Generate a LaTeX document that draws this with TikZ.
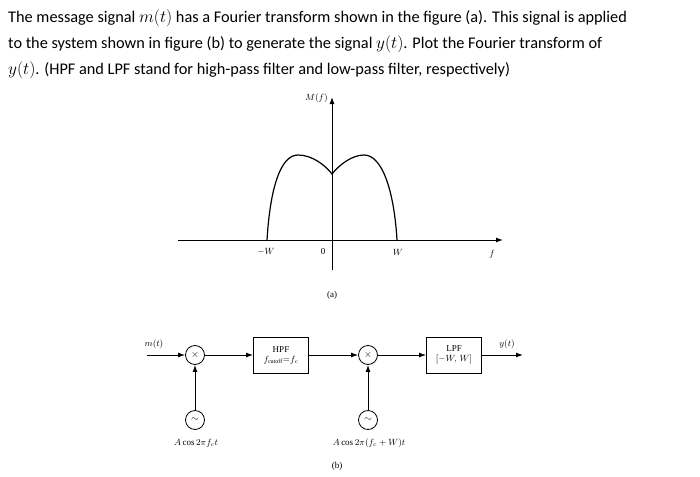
\documentclass[tikz,border=0pt]{standalone}
\usepackage{fontspec}
\setmainfont{Liberation Serif}
\newfontfamily\txtfont{Carlito}
\usetikzlibrary{arrows.meta}
\begin{document}
\begin{tikzpicture}[x=1pt,y=-1pt,
  ln/.style={line width=1pt},
  arr/.style={ln,-{Latex[length=7pt,width=5pt]}},
  mult/.style={circle,draw,line width=0.8pt,minimum size=19pt,inner sep=0pt},
  blk/.style={draw,line width=0.8pt,minimum width=55pt,minimum height=36pt,align=center,font=\small,inner sep=1pt},
  lab/.style={font=\small\itshape,inner sep=1pt},
  hdr/.style={anchor=west,font=\txtfont\fontsize{16.3}{18}\selectfont,inner sep=0pt}]
\useasboundingbox (0,0) rectangle (700,476);
\node[hdr] (h1) at (8,18) {The message signal $m(t)$ has a Fourier transform shown in the figure (a). This signal is applied};
\node[hdr] (h2) at (8,44) {to the system shown in figure (b) to generate the signal $y(t)$. Plot the Fourier transform of};
\node[hdr] (h3) at (8,70) {$y(t)$. (HPF and LPF stand for high-pass filter and low-pass filter, respectively)};
% spectrum
\coordinate (xa) at (178,240); \coordinate (xb) at (503,240);
\coordinate (ya) at (332,270); \coordinate (yb) at (332,97);
\draw[arr] (xa) -- (xb);
\draw[arr] (ya) -- (yb);
\draw[line width=1.2pt] (267,240) .. controls (270,190) and (280,155) .. (298,155)
  .. controls (312,155) and (325,165) .. (332,174)
  .. controls (339,165) and (352,155) .. (364,155)
  .. controls (382,155) and (394,190) .. (397,240);
\node[lab] (mw) at (266,252) {$-W$};
\node[font=\small,inner sep=1pt] (z) at (323,252) {0};
\node[lab] (w) at (398,252) {$W$};
\node[lab] (f) at (492,254) {$f$};
\node[lab,anchor=east] (mf) at (329,98) {$M(f)$};
\node[font=\small] (la) at (332,295) {(a)};
% block diagram
\coordinate (in) at (147,355);
\node[mult] (m1) at (195,355) {$\times$};
\node[blk] (hpf) at (281,355) {HPF\\[-1pt]$f_{\mathrm{cutoff}}{=}f_c$};
\node[mult] (m2) at (368,355) {$\times$};
\node[blk] (lpf) at (454,355) {LPF\\[-1pt]$[-W,\,W]$};
\coordinate (out) at (523,355);
\node[mult] (o1) at (195,420) {$\sim$};
\node[mult] (o2) at (368,420) {$\sim$};
\draw[arr] (in) -- (m1);
\draw[arr] (m1) -- (hpf);
\draw[arr] (hpf) -- (m2);
\draw[arr] (m2) -- (lpf);
\draw[arr] (lpf) -- (out);
\draw[arr] (o1) -- (m1);
\draw[arr] (o2) -- (m2);
\node[lab] (mt) at (154,344) {$m(t)$};
\node[lab] (yt) at (507,344) {$y(t)$};
\node[font=\small] (c1) at (196,443) {$A\cos 2\pi f_c t$};
\node[font=\small] (c2) at (369,443) {$A\cos 2\pi (f_c+W)t$};
\node[font=\small] (lb) at (337,466) {(b)};
\end{tikzpicture}
\end{document}
